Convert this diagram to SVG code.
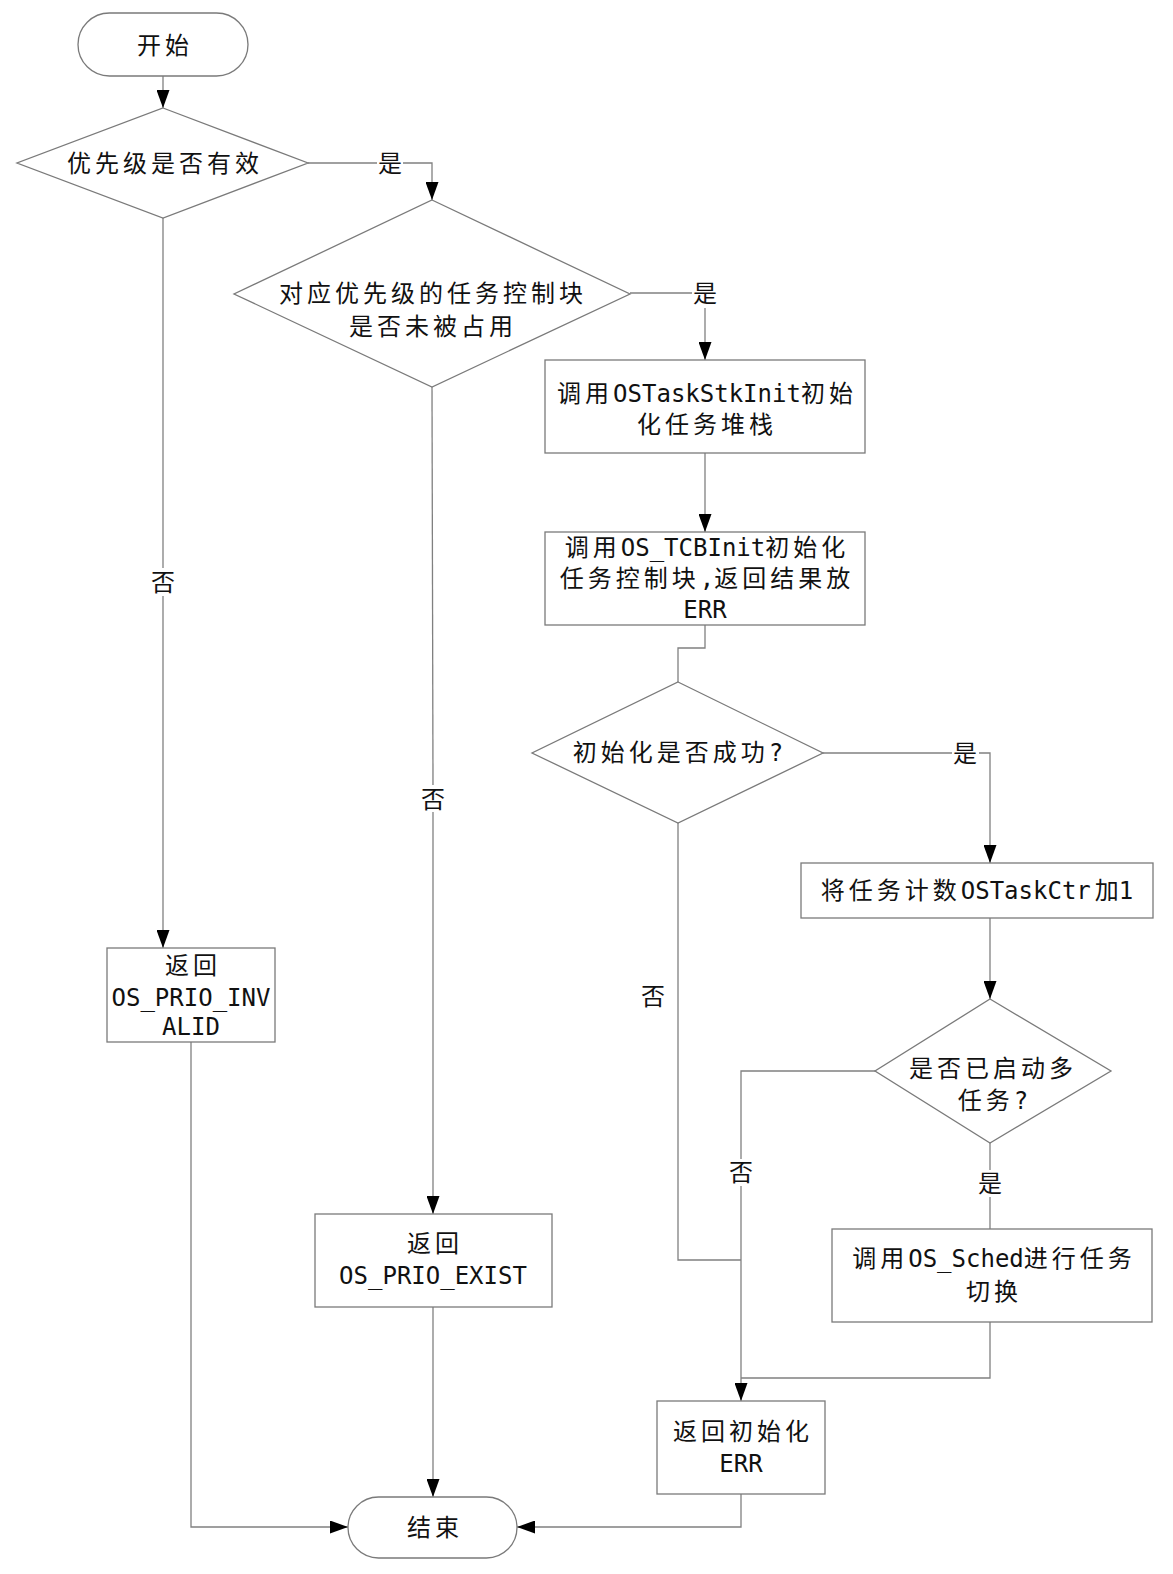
<svg xmlns="http://www.w3.org/2000/svg" width="1173" height="1574" viewBox="0 0 1173 1574">
<style>
.s{fill:#fff;stroke:#7a7a7a;stroke-width:1.3}
.c{fill:none;stroke:#808080;stroke-width:1.3}
.t{font-family:"DejaVu Sans Mono","Noto Sans CJK SC",monospace;font-size:24px;fill:#111;text-anchor:middle;letter-spacing:4px}
.n{letter-spacing:0}
</style>
<defs>
<marker id="a" markerUnits="userSpaceOnUse" markerWidth="18" markerHeight="13" refX="18" refY="6.5" orient="auto">
<path d="M0,0 L18,6.5 L0,13 Z" fill="#000"/>
</marker>
</defs>
<rect width="1173" height="1574" fill="#fff"/>
<g id="connectors">
<path class="c" d="M163,76 V108" marker-end="url(#a)"/>
<path class="c" d="M308,163 H377"/>
<path class="c" d="M403,163 H432 V200" marker-end="url(#a)"/>
<path class="c" d="M163,218 V568"/>
<path class="c" d="M163,596 V948" marker-end="url(#a)"/>
<path class="c" d="M630,293 H692"/>
<path class="c" d="M705,308 V360" marker-end="url(#a)"/>
<path class="c" d="M432,387 L433,785"/>
<path class="c" d="M433,812 V1214" marker-end="url(#a)"/>
<path class="c" d="M705,453 V532" marker-end="url(#a)"/>
<path class="c" d="M705,625 V648 H678 V682"/>
<path class="c" d="M823,753 H952"/>
<path class="c" d="M979,753 H990 V863" marker-end="url(#a)"/>
<path class="c" d="M678,823 V1260 H741"/>
<path class="c" d="M990,918 V999" marker-end="url(#a)"/>
<path class="c" d="M875,1071 H741 V1159"/>
<path class="c" d="M741,1186 V1401" marker-end="url(#a)"/>
<path class="c" d="M990,1143 V1170"/>
<path class="c" d="M990,1197 V1229"/>
<path class="c" d="M990,1322 V1378 H741"/>
<path class="c" d="M191,1042 V1527 H348" marker-end="url(#a)"/>
<path class="c" d="M433,1307 V1497" marker-end="url(#a)"/>
<path class="c" d="M741,1494 V1527 H517" marker-end="url(#a)"/>
<text class="t" x="392" y="172">是</text>
<text class="t" x="707" y="302">是</text>
<text class="t" x="967" y="762">是</text>
<text class="t" x="992" y="1192">是</text>
<text class="t" x="165" y="591">否</text>
<text class="t" x="435" y="808">否</text>
<text class="t" x="655" y="1005">否</text>
<text class="t" x="743" y="1181">否</text>
</g>
<g id="start">
<rect class="s" x="78" y="13" width="170" height="63" rx="31.5"/>
<text class="t" x="165" y="54">开始</text>
</g>
<g id="d1">
<polygon class="s" points="163,108 308,163 163,218 17,163"/>
<text class="t" x="165" y="172">优先级是否有效</text>
</g>
<g id="d2">
<polygon class="s" points="432,200 630,294 432,387 234,294"/>
<text class="t" x="433" y="302">对应优先级的任务控制块</text>
<text class="t" x="433" y="335">是否未被占用</text>
</g>
<g id="b1">
<rect class="s" x="545" y="360" width="320" height="93"/>
<text class="t" x="707" y="402">调用<tspan class="n">OSTaskStkInit</tspan>初始</text>
<text class="t" x="707" y="433">化任务堆栈</text>
</g>
<g id="b2">
<rect class="s" x="545" y="532" width="320" height="93"/>
<text class="t" x="707" y="556">调用<tspan class="n">OS_TCBInit</tspan>初始化</text>
<text class="t" x="707" y="587">任务控制块<tspan class="n">,</tspan>返回结果放</text>
<text class="t" x="705" y="618"><tspan class="n">ERR</tspan></text>
</g>
<g id="d3">
<polygon class="s" points="678,682 823,753 678,823 532,753"/>
<text class="t" x="678" y="761">初始化是否成功<tspan class="n">?</tspan></text>
</g>
<g id="b3">
<rect class="s" x="801" y="863" width="352" height="55"/>
<text class="t" x="977" y="899">将任务计数<tspan class="n">OSTaskCt</tspan>r<tspan class="n">加1</tspan></text>
</g>
<g id="d4">
<polygon class="s" points="990,999 1111,1071 990,1143 875,1071"/>
<text class="t" x="993" y="1077">是否已启动多</text>
<text class="t" x="993" y="1109">任务<tspan class="n">?</tspan></text>
</g>
<g id="b4">
<rect class="s" x="832" y="1229" width="320" height="93"/>
<text class="t" x="994" y="1267">调用<tspan class="n">OS_Sched</tspan>进行任务</text>
<text class="t" x="994" y="1300">切换</text>
</g>
<g id="b5">
<rect class="s" x="107" y="948" width="168" height="94"/>
<text class="t" x="193" y="974">返回</text>
<text class="t" x="191" y="1006"><tspan class="n">OS_PRIO_INV</tspan></text>
<text class="t" x="191" y="1035"><tspan class="n">ALID</tspan></text>
</g>
<g id="b6">
<rect class="s" x="315" y="1214" width="237" height="93"/>
<text class="t" x="435" y="1252">返回</text>
<text class="t" x="433" y="1284"><tspan class="n">OS_PRIO_EXIST</tspan></text>
</g>
<g id="b7">
<rect class="s" x="657" y="1401" width="168" height="93"/>
<text class="t" x="743" y="1440">返回初始化</text>
<text class="t" x="741" y="1472"><tspan class="n">ERR</tspan></text>
</g>
<g id="end">
<rect class="s" x="348" y="1497" width="169" height="61" rx="30.5"/>
<text class="t" x="435" y="1536">结束</text>
</g>
</svg>
